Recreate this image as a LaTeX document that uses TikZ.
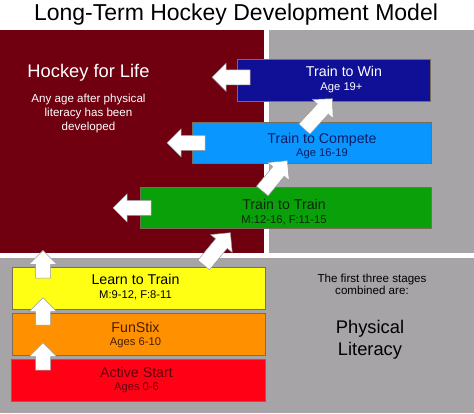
\documentclass[tikz,border=0pt]{standalone}
\usepackage{fontspec}
\setmainfont{Liberation Sans}
\usetikzlibrary{calc}
\definecolor{maroonbg}{RGB}{112,0,16}
\definecolor{greybg}{RGB}{166,164,166}
\definecolor{winc}{RGB}{16,16,150}
\definecolor{compc}{RGB}{10,150,255}
\definecolor{trainc}{RGB}{10,160,10}
\definecolor{learnc}{RGB}{255,255,20}
\definecolor{func}{RGB}{255,145,0}
\definecolor{activec}{RGB}{255,0,20}
\definecolor{boxedge}{RGB}{120,110,90}
\definecolor{comptext}{RGB}{10,30,100}
\definecolor{traintext}{RGB}{10,40,10}
\definecolor{funtext}{RGB}{70,30,0}
\definecolor{activetext}{RGB}{100,0,16}
\tikzset{
  stagebox/.style={draw=boxedge, line width=0.7pt, inner sep=0pt, anchor=north west},
  barrow/.style={draw=black!40, fill=white, line width=0.5pt, line join=miter},
  lbl/.style={anchor=base, inner sep=0pt, font=\fontsize{14.2}{16}\selectfont},
  sublbl/.style={anchor=base, inner sep=0pt, font=\fontsize{11.2}{13}\selectfont},
  smalltxt/.style={anchor=base, inner sep=0pt, font=\fontsize{11.6}{13}\selectfont},
  bigtxt/.style={anchor=base, inner sep=0pt, font=\fontsize{18.3}{21}\selectfont},
}
\newcommand\blockarr[2]{%
  \path[barrow] let \p1=(#1), \p2=(#2),
    \n1={atan2(\y2-\y1,\x2-\x1)}, \n2={veclen(\x2-\x1,\y2-\y1)} in
    [shift={(\p1)}, rotate=\n1]
    (0pt,-7.5pt) -- ({\n2*1pt-14pt},-7.5pt) -- ({\n2*1pt-14pt},-14pt) -- ({\n2*1pt},0pt)
    -- ({\n2*1pt-14pt},14pt) -- ({\n2*1pt-14pt},7.5pt) -- (0pt,7.5pt) -- cycle;}
\begin{document}
\begin{tikzpicture}[x=1pt,y=-1pt]
\useasboundingbox (0,0) rectangle (474,413);
\fill[white] (0,0) rectangle (474,413);
% background regions
\node[fill=maroonbg, inner sep=0pt, anchor=north west, minimum width=264pt, minimum height=223pt] (life) at (0,30) {};
\node[fill=greybg, inner sep=0pt, anchor=north west, minimum width=205pt, minimum height=223pt] (upright) at (269,30) {};
\node[fill=greybg, inner sep=0pt, anchor=north west, minimum width=474pt, minimum height=155pt] (lower) at (0,258) {};
% title
\node[anchor=base, inner sep=0pt, font=\fontsize{23}{27}\selectfont] (title) at (236,20.5) {Long-Term Hockey Development Model};
% Hockey for life text
\node[bigtxt, text=white] (hfl) at (88.5,77) {Hockey for Life};
\node[smalltxt, text=white] (hfl1) at (88.5,102) {Any age after physical};
\node[smalltxt, text=white] (hfl2) at (88.5,116) {literacy has been};
\node[smalltxt, text=white] (hfl3) at (88.5,130) {developed};
% stage boxes
\node[stagebox, fill=winc, minimum width=193pt, minimum height=42pt] (win) at (237,59) {};
\node[stagebox, fill=compc, minimum width=239pt, minimum height=41pt] (compete) at (192,122) {};
\node[stagebox, fill=trainc, minimum width=291pt, minimum height=41pt] (train) at (140,187) {};
\node[stagebox, fill=learnc, minimum width=253pt, minimum height=42pt] (learn) at (12,267) {};
\node[stagebox, fill=func, minimum width=253pt, minimum height=42pt] (fun) at (12,313) {};
\node[stagebox, fill=activec, minimum width=254pt, minimum height=42pt] (active) at (11,359) {};
% labels
\node[lbl, text=white] (winT) at (344,76) {Train to Win};
\node[sublbl, text=white] (winS) at (341.5,90) {Age 19+};
\node[lbl, text=comptext] (compT) at (322,143) {Train to Compete};
\node[sublbl, text=comptext] (compS) at (322,156) {Age 16-19};
\node[lbl, text=traintext] (trainT) at (284,209) {Train to Train};
\node[sublbl, text=traintext] (trainS) at (284,223) {M:12-16, F:11-15};
\node[lbl, text=black] (learnT) at (135.5,284) {Learn to Train};
\node[sublbl, text=black] (learnS) at (135.5,298) {M:9-12, F:8-11};
\node[lbl, text=funtext] (funT) at (135.5,332) {FunStix};
\node[sublbl, text=funtext] (funS) at (135.5,345) {Ages 6-10};
\node[lbl, text=activetext] (activeT) at (136.5,377) {Active Start};
\node[sublbl, text=activetext] (activeS) at (136.5,390) {Ages 0-6};
% right text
\node[smalltxt] (pl1) at (372,282) {The first three stages};
\node[smalltxt] (pl2) at (372,294) {combined are:};
\node[bigtxt] (pl3) at (370,333) {Physical};
\node[bigtxt] (pl4) at (370,355) {Literacy};
% arrow end points
\coordinate (wTail) at ($(win.west)+(13,-3)$);
\coordinate (wTip) at ($(win.west)+(-25,-3)$);
\coordinate (cTail) at ($(compete.west)+(13,0)$);
\coordinate (cTip) at ($(compete.west)+(-25,0)$);
\coordinate (tTail) at ($(train.west)+(11,0)$);
\coordinate (tTip) at ($(train.west)+(-27,0)$);
\coordinate (c2wTail) at ($(compete.north)+(-7.5,7)$);
\coordinate (c2wTip) at ($(win.south)+(-1.5,-3)$);
\coordinate (t2cTail) at ($(train.north)+(-23.5,4)$);
\coordinate (t2cTip) at ($(compete.south)+(-24.5,-3)$);
\coordinate (l2tTail) at ($(learn.north east)+(-62,-2)$);
\coordinate (l2tTip) at ($(train.south)+(-55.5,4)$);
\coordinate (a2fTail) at ($(active.north west)+(32,11)$);
\coordinate (a2fTip) at ($(fun.south west)+(31,-13)$);
\coordinate (f2lTail) at ($(fun.north west)+(31,12)$);
\coordinate (f2lTip) at ($(learn.south west)+(31,-12)$);
\coordinate (l2upTail) at ($(learn.north west)+(31,11)$);
\coordinate (l2upTip) at ($(life.south west)+(43,-3)$);
% block arrows
\blockarr{wTail}{wTip}
\blockarr{cTail}{cTip}
\blockarr{tTail}{tTip}
\blockarr{c2wTail}{c2wTip}
\blockarr{t2cTail}{t2cTip}
\blockarr{l2tTail}{l2tTip}
\blockarr{a2fTail}{a2fTip}
\blockarr{f2lTail}{f2lTip}
\blockarr{l2upTail}{l2upTip}
\end{tikzpicture}
\end{document}
